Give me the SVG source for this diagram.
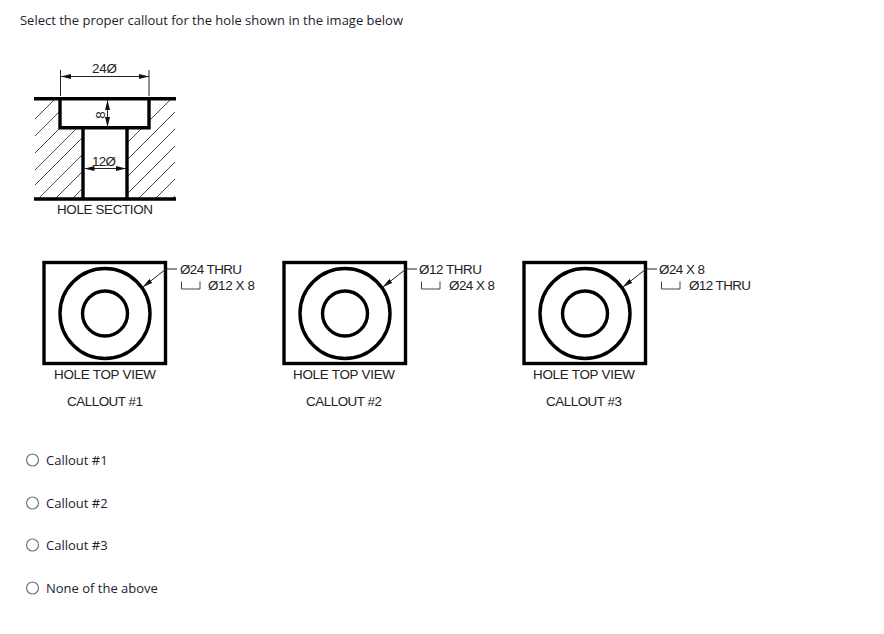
<svg xmlns="http://www.w3.org/2000/svg" width="884" height="634" viewBox="0 0 884 634">
<style>
.ui{font-family:"Open Sans","Noto Sans",sans-serif;font-size:13px;fill:#1c1c30}
.cad{font-family:"Liberation Sans",Arial,sans-serif;font-size:13.400px;fill:#222}
.mid{text-anchor:middle}
.thick{fill:none;stroke:#000;stroke-width:3.4}
.thin{fill:none;stroke:#222;stroke-width:1}
.sym{fill:none;stroke:#444;stroke-width:1}
.hatch{fill:none;stroke:#333;stroke-width:.9}
.radio{fill:#fff;stroke:#767676;stroke-width:1.2}
</style>
<defs>
<marker id="arr" viewBox="0 0 10 5" refX="10" refY="2.500" markerWidth="10" markerHeight="5" markerUnits="userSpaceOnUse" orient="auto-start-reverse"><path d="M0 0L10 2.500L0 5Z" fill="#111"/></marker>
<clipPath id="hl"><path d="M35 99H60V128H83V199H35Z"/></clipPath>
<clipPath id="hr"><path d="M149 99H175V199H127V128H149Z"/></clipPath>
<g id="topview">
<rect class="thick" x="44" y="262.500" width="121.500" height="101"/>
<circle class="thick" cx="105" cy="313.500" r="45"/>
<circle class="thick" cx="105" cy="313.500" r="22.500"/>
<path class="thin" d="M177 269H166L143 287" marker-end="url(#arr)"/>
<path class="sym" d="M181.500 281.500V289H200V281.500"/>
</g>
</defs>
<text class="ui" x="20" y="25" textLength="383">Select the proper callout for the hole shown in the image below</text>
<g id="hole-section">
<g clip-path="url(#hl)"><path class="hatch" d="M30 124L60 94M30 141L70 101M30 158L90 98M30 175L90 115M30 190L90 130M30 207L90 147M50 204L90 164M67 204L90 181"/></g>
<g clip-path="url(#hr)"><path class="hatch" d="M120 150L180 90M120 167L180 107M120 184L180 124M120 201L180 141M130 207L180 157M147 207L180 174M164 207L180 191"/></g>
<path class="thick" d="M34 98.700H176M34 199H176M60 99V127.700H149V99M83 128V199M127 128V199"/>
<path class="thin" d="M60.500 70V96M149 70V96"/>
<path class="thin" d="M61 76.500H149" marker-start="url(#arr)" marker-end="url(#arr)"/>
<path class="thin" d="M107.500 100V127" marker-start="url(#arr)" marker-end="url(#arr)"/>
<path class="thin" d="M84.500 168.500H126" marker-start="url(#arr)" marker-end="url(#arr)"/>
<text class="cad" x="92" y="73" textLength="25">24Ø</text>
<text class="cad mid" transform="translate(105 115) rotate(-90)">8</text>
<text class="cad" x="92" y="165.500" textLength="24">12Ø</text>
<text class="cad" x="57" y="214" textLength="96">HOLE SECTION</text>
</g>
<g id="callout-1">
<use href="#topview"/>
<text class="cad" x="180" y="274" textLength="62">Ø24 THRU</text>
<text class="cad" x="208" y="290" textLength="47">Ø12 X 8</text>
<text class="cad" x="54" y="379" textLength="102">HOLE TOP VIEW</text>
<text class="cad" x="67" y="406" textLength="76">CALLOUT #1</text>
</g>
<g id="callout-2">
<use href="#topview" x="240"/>
<text class="cad" x="419" y="274" textLength="63">Ø12 THRU</text>
<text class="cad" x="449" y="290" textLength="46">Ø24 X 8</text>
<text class="cad" x="293" y="379" textLength="102">HOLE TOP VIEW</text>
<text class="cad" x="306" y="406" textLength="76">CALLOUT #2</text>
</g>
<g id="callout-3">
<use href="#topview" x="480"/>
<text class="cad" x="659" y="274" textLength="46">Ø24 X 8</text>
<text class="cad" x="689" y="290" textLength="62">Ø12 THRU</text>
<text class="cad" x="533" y="379" textLength="102">HOLE TOP VIEW</text>
<text class="cad" x="546" y="406" textLength="76">CALLOUT #3</text>
</g>
<g id="option-1"><circle class="radio" cx="32.500" cy="460" r="6"/><text class="ui" x="46" y="465">Callout #1</text></g>
<g id="option-2"><circle class="radio" cx="32.500" cy="503" r="6"/><text class="ui" x="46" y="508">Callout #2</text></g>
<g id="option-3"><circle class="radio" cx="32.500" cy="545" r="6"/><text class="ui" x="46" y="550">Callout #3</text></g>
<g id="option-4"><circle class="radio" cx="32.500" cy="588" r="6"/><text class="ui" x="46" y="593">None of the above</text></g>
</svg>
